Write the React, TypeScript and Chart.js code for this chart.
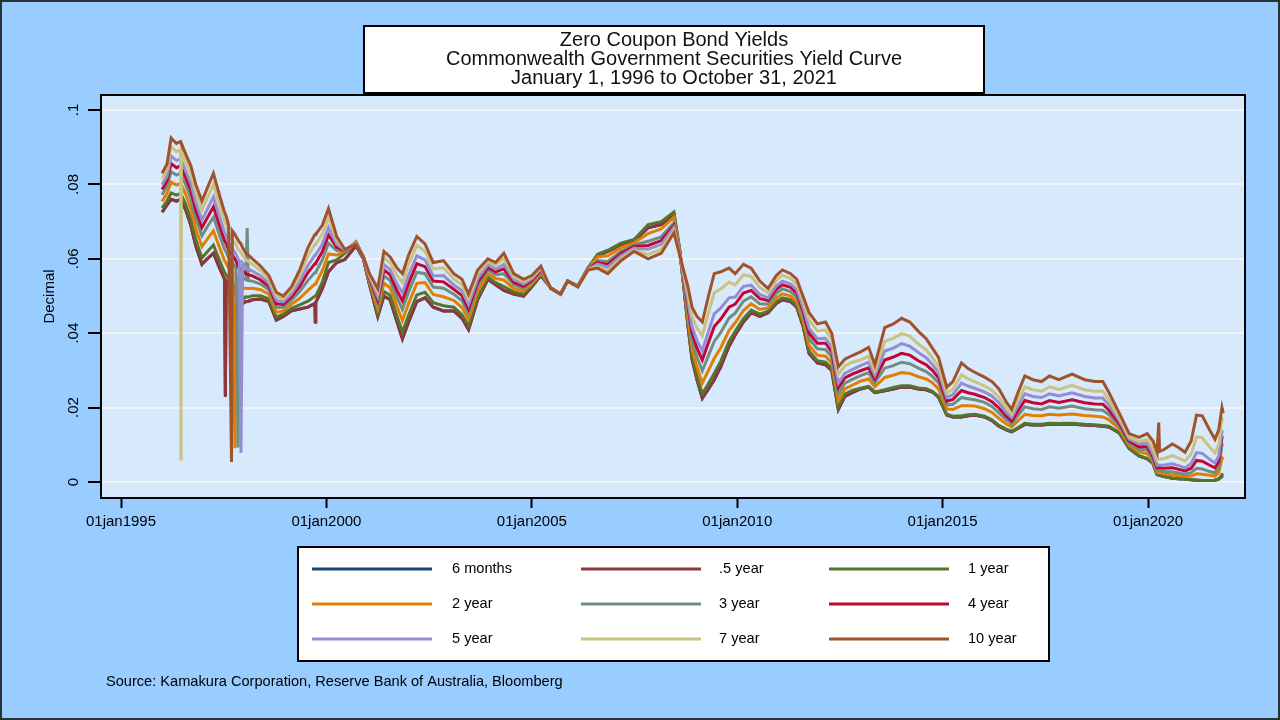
import React, { useEffect, useRef } from "react";
import { Chart, registerables } from "chart.js";

Chart.register(...registerables);

const FONT = '"Liberation Sans", Arial, Helvetica, sans-serif';

const titleLines = [
  "Zero Coupon Bond Yields",
  "Commonwealth Government Securities Yield Curve",
  "January 1, 1996 to October 31, 2021",
];
const sourceNote = "Source: Kamakura Corporation, Reserve Bank of Australia, Bloomberg";
const yAxisTitle = "Decimal";

const xTickValues = [1995, 2000, 2005, 2010, 2015, 2020];
const xTickLabels = ["01jan1995", "01jan2000", "01jan2005", "01jan2010", "01jan2015", "01jan2020"];
const yTickValues = [0, 0.02, 0.04, 0.06, 0.08, 0.1];
const yTickLabels = ["0", ".02", ".04", ".06", ".08", ".1"];

const seriesLabels = ["6 months", ".5 year", "1 year", "2 year", "3 year", "4 year", "5 year", "7 year", "10 year"];
const seriesColors = ["#1A476F", "#90353B", "#55752F", "#E37E00", "#6E8E84", "#C10534", "#938DD2", "#CAC27E", "#A0522D"];

// decimal-year dates of the readings
const dates = [
  1996.00,1996.12,1996.22,1996.35,1996.45,1996.46,1996.47,1996.58,1996.70,1996.82,
  1996.97,1997.10,1997.25,1997.40,1997.52,1997.54,1997.56,1997.62,1997.69,1997.71,
  1997.775,1997.80,1997.85,1997.88,1997.92,1997.96,1998.04,1998.07,1998.10,1998.20,
  1998.40,1998.60,1998.78,1998.95,1999.15,1999.35,1999.55,1999.72,1999.73,1999.74,
  1999.90,2000.05,2000.25,2000.45,2000.72,2000.90,2001.05,2001.25,2001.40,2001.55,
  2001.72,2001.85,2002.00,2002.20,2002.40,2002.60,2002.85,2003.10,2003.30,2003.46,
  2003.68,2003.93,2004.12,2004.32,2004.56,2004.80,2005.00,2005.22,2005.46,2005.70,
  2005.87,2006.12,2006.37,2006.60,2006.85,2007.17,2007.49,2007.83,2008.15,2008.46,
  2008.60,2008.68,2008.80,2008.90,2009.02,2009.15,2009.30,2009.44,2009.60,2009.80,
  2009.95,2010.15,2010.34,2010.55,2010.75,2010.95,2011.10,2011.30,2011.45,2011.60,
  2011.75,2011.95,2012.15,2012.30,2012.46,2012.62,2012.80,2013.00,2013.20,2013.35,
  2013.59,2013.80,2014.00,2014.20,2014.41,2014.60,2014.75,2014.90,2015.10,2015.25,
  2015.46,2015.62,2015.78,2016.02,2016.20,2016.37,2016.55,2016.68,2016.85,2017.00,
  2017.20,2017.41,2017.60,2017.83,2018.15,2018.46,2018.70,2018.90,2019.05,2019.30,
  2019.54,2019.78,2019.98,2020.12,2020.22,2020.26,2020.28,2020.40,2020.59,2020.75,
  2020.90,2021.05,2021.18,2021.32,2021.50,2021.63,2021.72,2021.80,2021.83,
];

const tenYear = [
  .0830,.0855,.0925,.0910,.0915,.0912,.0910,.0880,.0850,.0800,
  .0755,.0790,.0830,.0770,.0725,.0720,.0715,.0690,.0054,.0675,
  .0665,.0660,.0650,.0645,.0640,.0630,.0615,.0612,.0610,.0600,
  .0580,.0555,.0510,.0500,.0525,.0570,.0630,.0665,.0665,.0666,
  .0690,.0735,.0660,.0625,.0640,.0605,.0560,.0520,.0620,.0605,
  .0575,.0560,.0610,.0660,.0640,.0590,.0595,.0560,.0545,.0505,
  .0570,.0600,.0590,.0615,.0560,.0545,.0555,.0580,.0520,.0505,
  .0540,.0525,.0570,.0575,.0560,.0595,.0620,.0600,.0615,.0670,
  .0610,.0575,.0525,.0470,.0445,.0430,.0500,.0560,.0565,.0575,
  .0560,.0585,.0575,.0540,.0520,.0555,.0570,.0560,.0545,.0500,
  .0455,.0425,.0430,.0400,.0310,.0330,.0340,.0350,.0362,.0315,
  .0415,.0425,.0440,.0430,.0405,.0385,.0360,.0335,.0255,.0270,
  .0320,.0305,.0295,.0282,.0270,.0250,.0215,.0195,.0245,.0285,
  .0275,.0270,.0285,.0275,.0290,.0275,.0270,.0270,.0240,.0185,
  .0130,.0120,.0130,.0110,.0080,.0160,.0082,.0088,.0102,.0092,
  .0080,.0110,.0180,.0178,.0140,.0115,.0140,.0200,.0185,
];

const sevenYear = [
  .0815,.0840,.0902,.0888,.0893,.0058,.0888,.0859,.0828,.0777,
  .0731,.0763,.0800,.0743,.0700,.0696,.0691,.0668,.0655,.0652,
  .0642,.0637,.0626,.0622,.0618,.0609,.0597,.0595,.0593,.0585,
  .0568,.0545,.0500,.0492,.0516,.0555,.0608,.0639,.0639,.0640,
  .0666,.0711,.0650,.0624,.0642,.0605,.0557,.0510,.0603,.0589,
  .0555,.0536,.0585,.0636,.0620,.0573,.0576,.0546,.0530,.0492,
  .0559,.0592,.0582,.0601,.0552,.0539,.0551,.0577,.0520,.0505,
  .0540,.0525,.0571,.0580,.0568,.0601,.0624,.0612,.0626,.0677,
  .0612,.0570,.0506,.0445,.0414,.0393,.0455,.0509,.0519,.0537,
  .0530,.0557,.0553,.0523,.0508,.0542,.0556,.0547,.0532,.0486,
  .0435,.0406,.0409,.0382,.0289,.0312,.0322,.0328,.0338,.0299,
  .0378,.0387,.0399,.0392,.0371,.0355,.0334,.0311,.0239,.0249,
  .0288,.0277,.0270,.0258,.0247,.0228,.0199,.0182,.0223,.0256,
  .0248,.0244,.0256,.0249,.0260,.0248,.0244,.0244,.0220,.0173,
  .0121,.0109,.0115,.0090,.0060,.0062,.0061,.0063,.0071,.0064,
  .0056,.0075,.0121,.0119,.0094,.0078,.0100,.0170,.0165,
];

const fiveYear = [
  .0799,.0822,.0876,.0864,.0869,.0866,.0864,.0835,.0802,.0751,
  .0704,.0733,.0766,.0712,.0671,.0667,.0663,.0642,.0630,.0627,
  .0617,.0612,.0599,.0595,.0078,.0588,.0576,.0574,.0572,.0567,
  .0554,.0534,.0488,.0484,.0506,.0539,.0582,.0610,.0610,.0611,
  .0639,.0684,.0639,.0623,.0643,.0605,.0551,.0498,.0584,.0571,
  .0532,.0508,.0556,.0608,.0597,.0554,.0555,.0530,.0514,.0477,
  .0546,.0584,.0572,.0585,.0544,.0532,.0546,.0573,.0520,.0505,
  .0540,.0525,.0572,.0586,.0578,.0608,.0629,.0626,.0639,.0685,
  .0614,.0564,.0485,.0417,.0380,.0352,.0405,.0452,.0468,.0495,
  .0497,.0526,.0529,.0504,.0495,.0527,.0540,.0532,.0517,.0470,
  .0413,.0385,.0386,.0362,.0266,.0292,.0302,.0313,.0322,.0287,
  .0352,.0360,.0372,.0365,.0348,.0334,.0316,.0295,.0227,.0235,
  .0266,.0258,.0252,.0242,.0231,.0213,.0187,.0173,.0208,.0237,
  .0230,.0227,.0237,.0231,.0240,.0230,.0226,.0226,.0206,.0165,
  .0115,.0102,.0105,.0075,.0045,.0046,.0045,.0046,.0049,.0044,
  .0038,.0050,.0079,.0077,.0061,.0051,.0070,.0135,.0133,
];

const fourYear = [
  .0786,.0809,.0856,.0845,.0850,.0848,.0846,.0817,.0783,.0731,
  .0684,.0710,.0740,.0688,.0649,.0645,.0641,.0623,.0612,.0609,
  .0599,.0594,.0579,.0575,.0572,.0568,.0560,.0558,.0557,.0554,
  .0543,.0526,.0479,.0477,.0498,.0526,.0563,.0587,.0587,.0588,
  .0619,.0664,.0631,.0622,.0644,.0605,.0547,.0489,.0570,.0557,
  .0514,.0487,.0534,.0587,.0579,.0540,.0538,.0518,.0501,.0465,
  .0536,.0577,.0565,.0573,.0537,.0526,.0542,.0570,.0521,.0505,
  .0540,.0525,.0573,.0590,.0585,.0614,.0633,.0636,.0649,.0690,
  .0615,.0560,.0473,.0400,.0360,.0328,.0375,.0418,.0438,.0470,
  .0478,.0508,.0515,.0493,.0488,.0518,.0530,.0523,.0508,.0460,
  .0400,.0373,.0373,.0350,.0253,.0280,.0290,.0299,.0307,.0277,
  .0328,.0336,.0346,.0341,.0326,.0315,.0300,.0280,.0217,.0222,
  .0246,.0240,.0236,.0227,.0216,.0199,.0177,.0164,.0194,.0219,
  .0213,.0210,.0219,.0214,.0221,.0213,.0210,.0209,.0193,.0158,
  .0110,.0095,.0095,.0068,.0038,.0039,.0038,.0037,.0038,.0034,
  .0030,.0037,.0058,.0056,.0045,.0038,.0055,.0120,.0118,
];

const threeYear = [
  .0772,.0795,.0834,.0825,.0830,.0828,.0826,.0798,.0762,.0709,
  .0662,.0686,.0712,.0663,.0626,.0622,.0618,.0602,.0592,.0589,
  .0579,.0574,.0093,.0553,.0550,.0547,.0544,.0683,.0541,.0540,
  .0532,.0517,.0469,.0470,.0489,.0512,.0542,.0563,.0563,.0564,
  .0597,.0642,.0622,.0621,.0645,.0605,.0544,.0479,.0554,.0542,
  .0495,.0464,.0511,.0564,.0560,.0524,.0521,.0505,.0487,.0453,
  .0526,.0570,.0557,.0560,.0530,.0520,.0539,.0566,.0521,.0505,
  .0540,.0526,.0574,.0595,.0593,.0620,.0637,.0647,.0659,.0697,
  .0617,.0556,.0458,.0380,.0336,.0299,.0340,.0378,.0402,.0441,
  .0454,.0486,.0498,.0479,.0478,.0507,.0519,.0512,.0497,.0449,
  .0385,.0358,.0356,.0336,.0236,.0266,.0276,.0286,.0294,.0267,
  .0306,.0313,.0322,.0318,.0306,.0297,.0284,.0267,.0207,.0209,
  .0227,.0224,.0221,.0214,.0203,.0186,.0167,.0157,.0181,.0202,
  .0197,.0195,.0202,.0198,.0204,.0197,.0194,.0193,.0181,.0151,
  .0104,.0088,.0086,.0061,.0031,.0032,.0031,.0028,.0027,.0024,
  .0021,.0025,.0037,.0035,.0028,.0025,.0040,.0100,.0098,
];

const twoYear = [
  .0754,.0776,.0806,.0798,.0803,.0801,.0799,.0772,.0735,.0681,
  .0633,.0653,.0675,.0630,.0595,.0592,.0588,.0575,.0566,.0563,
  .0091,.0548,.0528,.0525,.0522,.0520,.0521,.0520,.0520,.0521,
  .0517,.0505,.0456,.0460,.0478,.0494,.0515,.0532,.0532,.0533,
  .0568,.0613,.0610,.0620,.0646,.0605,.0538,.0466,.0534,.0522,
  .0471,.0434,.0480,.0534,.0536,.0504,.0498,.0488,.0469,.0437,
  .0512,.0560,.0547,.0543,.0520,.0513,.0533,.0562,.0521,.0505,
  .0540,.0526,.0575,.0605,.0608,.0630,.0643,.0668,.0680,.0712,
  .0620,.0551,.0441,.0358,.0309,.0266,.0300,.0332,.0361,.0407,
  .0428,.0461,.0479,.0464,.0468,.0495,.0506,.0500,.0485,.0436,
  .0367,.0341,.0338,.0320,.0218,.0250,.0260,.0271,.0277,.0256,
  .0281,.0287,.0294,.0292,.0283,.0277,.0267,.0250,.0196,.0195,
  .0205,.0205,.0204,.0197,.0187,.0171,.0156,.0148,.0166,.0182,
  .0179,.0178,.0182,.0180,.0183,.0179,.0177,.0175,.0167,.0143,
  .0098,.0081,.0076,.0056,.0026,.0026,.0025,.0022,.0019,.0017,
  .0015,.0016,.0022,.0021,.0018,.0016,.0025,.0065,.0060,
];

const oneYear = [
  .0736,.0756,.0777,.0771,.0776,.0774,.0772,.0745,.0706,.0652,
  .0602,.0619,.0637,.0595,.0563,.0560,.0557,.0546,.0538,.0535,
  .0525,.0520,.0497,.0494,.0492,.0490,.0498,.0497,.0497,.0501,
  .0501,.0492,.0443,.0451,.0467,.0476,.0486,.0499,.0499,.0500,
  .0537,.0590,.0597,.0615,.0645,.0603,.0533,.0453,.0512,.0502,
  .0445,.0403,.0448,.0503,.0510,.0482,.0474,.0470,.0450,.0420,
  .0498,.0551,.0536,.0525,.0511,.0505,.0528,.0558,.0522,.0505,
  .0541,.0527,.0576,.0612,.0623,.0642,.0652,.0692,.0700,.0726,
  .0625,.0547,.0426,.0338,.0285,.0237,.0265,.0292,.0325,.0378,
  .0405,.0439,.0462,.0451,.0459,.0485,.0495,.0490,.0475,.0425,
  .0352,.0326,.0322,.0306,.0202,.0236,.0246,.0252,.0257,.0242,
  .0248,.0254,.0259,.0259,.0253,.0251,.0244,.0230,.0182,.0177,
  .0178,.0181,.0182,.0177,.0167,.0152,.0142,.0136,.0147,.0158,
  .0155,.0155,.0158,.0157,.0158,.0155,.0154,.0152,.0150,.0133,
  .0091,.0071,.0063,.0050,.0020,.0019,.0018,.0015,.0010,.0009,
  .0008,.0006,.0005,.0004,.0004,.0005,.0008,.0020,.0018,
];

const halfYear = [
  .0725,.0745,.0760,.0755,.0760,.0758,.0756,.0730,.0690,.0635,
  .0585,.0600,.0615,.0575,.0545,.0229,.0540,.0530,.0520,.0518,
  .0505,.0500,.0480,.0480,.0480,.0480,.0485,.0485,.0486,.0490,
  .0492,.0485,.0435,.0445,.0460,.0465,.0470,.0480,.0430,.0482,
  .0520,.0565,.0590,.0598,.0635,.0600,.0530,.0445,.0500,.0490,
  .0430,.0385,.0430,.0485,.0495,.0470,.0460,.0460,.0440,.0410,
  .0490,.0545,.0530,.0515,.0505,.0500,.0525,.0555,.0522,.0505,
  .0540,.0526,.0576,.0608,.0620,.0638,.0648,.0683,.0692,.0718,
  .0622,.0545,.0420,.0330,.0275,.0225,.0250,.0275,.0310,.0365,
  .0395,.0430,.0455,.0445,.0455,.0480,.0490,.0485,.0470,.0420,
  .0345,.0320,.0315,.0300,.0195,.0230,.0240,.0250,.0255,.0240,
  .0245,.0250,.0255,.0255,.0250,.0248,.0242,.0228,.0180,.0175,
  .0175,.0178,.0180,.0175,.0165,.0150,.0140,.0135,.0145,.0155,
  .0153,.0153,.0155,.0155,.0155,.0153,.0152,.0150,.0148,.0132,
  .0090,.0070,.0062,.0050,.0020,.0019,.0018,.0015,.0010,.0009,
  .0008,.0006,.0005,.0004,.0004,.0005,.0008,.0015,.0015,
];

// the 6-month series coincides with the .5-year series (hidden beneath it)
const sixMonths = halfYear.slice();

const allSeries = [sixMonths, halfYear, oneYear, twoYear, threeYear, fourYear, fiveYear, sevenYear, tenYear];

const decorPlugin = {
  id: "decor",
  beforeDraw(chart: any) {
    const { ctx, width, height, chartArea: a } = chart;
    ctx.save();
    ctx.fillStyle = "#99CCFF";
    ctx.fillRect(0, 0, width, height);
    ctx.fillStyle = "#D7EAFD";
    ctx.fillRect(a.left, a.top, a.right - a.left, a.bottom - a.top);
    ctx.restore();
  },
  afterDatasetsDraw(chart: any) {
    const { ctx, chartArea: a } = chart;
    ctx.save();
    ctx.strokeStyle = "#000";
    ctx.lineWidth = 2;
    ctx.strokeRect(a.left, a.top, a.right - a.left, a.bottom - a.top);
    ctx.restore();
  },
  afterDraw(chart: any) {
    const { ctx, width, height } = chart;
    ctx.save();
    // title box
    ctx.fillStyle = "#FFFFFF";
    ctx.fillRect(364, 26, 620, 67);
    ctx.strokeStyle = "#000";
    ctx.lineWidth = 2;
    ctx.strokeRect(364, 26, 620, 67);
    ctx.fillStyle = "#111";
    ctx.font = `20px ${FONT}`;
    ctx.textAlign = "center";
    ctx.textBaseline = "middle";
    titleLines.forEach((t, i) => ctx.fillText(t, 674, 40 + i * 19));

    // legend box
    ctx.fillStyle = "#FFFFFF";
    ctx.fillRect(298, 547, 751, 114);
    ctx.strokeStyle = "#000";
    ctx.strokeRect(298, 547, 751, 114);
    const rowsY = [569, 604, 639];
    const lineX = [312, 581, 829];
    const labelX = [452, 719, 968];
    ctx.font = `14.6px ${FONT}`;
    ctx.textAlign = "left";
    chart.data.datasets.forEach((ds: any, i: number) => {
      const r = Math.floor(i / 3);
      const c = i % 3;
      ctx.strokeStyle = ds.borderColor;
      ctx.lineWidth = 3;
      ctx.beginPath();
      ctx.moveTo(lineX[c], rowsY[r]);
      ctx.lineTo(lineX[c] + 120, rowsY[r]);
      ctx.stroke();
      ctx.fillStyle = "#000";
      ctx.fillText(ds.label, labelX[c], rowsY[r]);
    });

    // source note
    ctx.font = `14.6px ${FONT}`;
    ctx.fillStyle = "#000";
    ctx.fillText(sourceNote, 106, 682);

    // outer frame
    ctx.strokeStyle = "#2A2F3A";
    ctx.lineWidth = 2;
    ctx.strokeRect(1, 1, width - 2, height - 2);
    ctx.restore();
  },
};

export default function App() {
  const ref = useRef<HTMLCanvasElement | null>(null);

  useEffect(() => {
    if (!ref.current) return;
    const datasets = allSeries.map((s, i) => ({
      label: seriesLabels[i],
      data: dates.map((d, k) => ({ x: d, y: s[k] })),
      borderColor: seriesColors[i],
      backgroundColor: seriesColors[i],
      borderWidth: 3,
      pointRadius: 0,
      tension: 0,
      fill: false,
      order: allSeries.length - 1 - i,
    }));

    const chart = new Chart(ref.current, {
      type: "line",
      data: { datasets },
      plugins: [decorPlugin],
      options: {
        animation: false,
        responsive: false,
        devicePixelRatio: 1,
        events: [],
        layout: { padding: { left: 0, top: 95, right: 35, bottom: 182 } },
        plugins: { legend: { display: false }, tooltip: { enabled: false }, title: { display: false } },
        scales: {
          x: {
            type: "linear",
            min: 1994.513,
            max: 2022.36,
            afterBuildTicks: (s: any) => {
              s.ticks = xTickValues.map((v) => ({ value: v }));
            },
            afterFit: (s: any) => {
              s.height = 40;
            },
            ticks: {
              callback: (_v: any, i: number) => xTickLabels[i],
              autoSkip: false,
              maxRotation: 0,
              minRotation: 0,
              padding: 5,
              color: "#000",
              font: { family: FONT, size: 15 },
            },
            grid: { drawOnChartArea: false, drawTicks: true, tickLength: 10, tickColor: "#000", tickWidth: 2 },
            border: { display: false },
          },
          y: {
            type: "linear",
            min: -0.0043,
            max: 0.10403,
            afterBuildTicks: (s: any) => {
              s.ticks = yTickValues.map((v) => ({ value: v }));
            },
            afterFit: (s: any) => {
              s.width = 101;
            },
            ticks: {
              callback: (_v: any, i: number) => yTickLabels[i],
              autoSkip: false,
              minRotation: 90,
              maxRotation: 90,
              crossAlign: "center",
              padding: 4,
              color: "#000",
              font: { family: FONT, size: 15 },
            },
            grid: { color: "#EEF4F7", lineWidth: 2, drawTicks: true, tickLength: 13, tickColor: "#000", tickWidth: 2 },
            border: { display: false },
            title: {
              display: true,
              text: yAxisTitle,
              color: "#000",
              font: { family: FONT, size: 15 },
              padding: { top: 41, bottom: 0 },
            },
          },
        },
      } as any,
    });
    return () => chart.destroy();
  }, []);

  return (
    <div style={{ position: "fixed", left: 0, top: 0, width: 1280, height: 720 }}>
      <canvas ref={ref} width={1280} height={720} style={{ display: "block" }} />
    </div>
  );
}
